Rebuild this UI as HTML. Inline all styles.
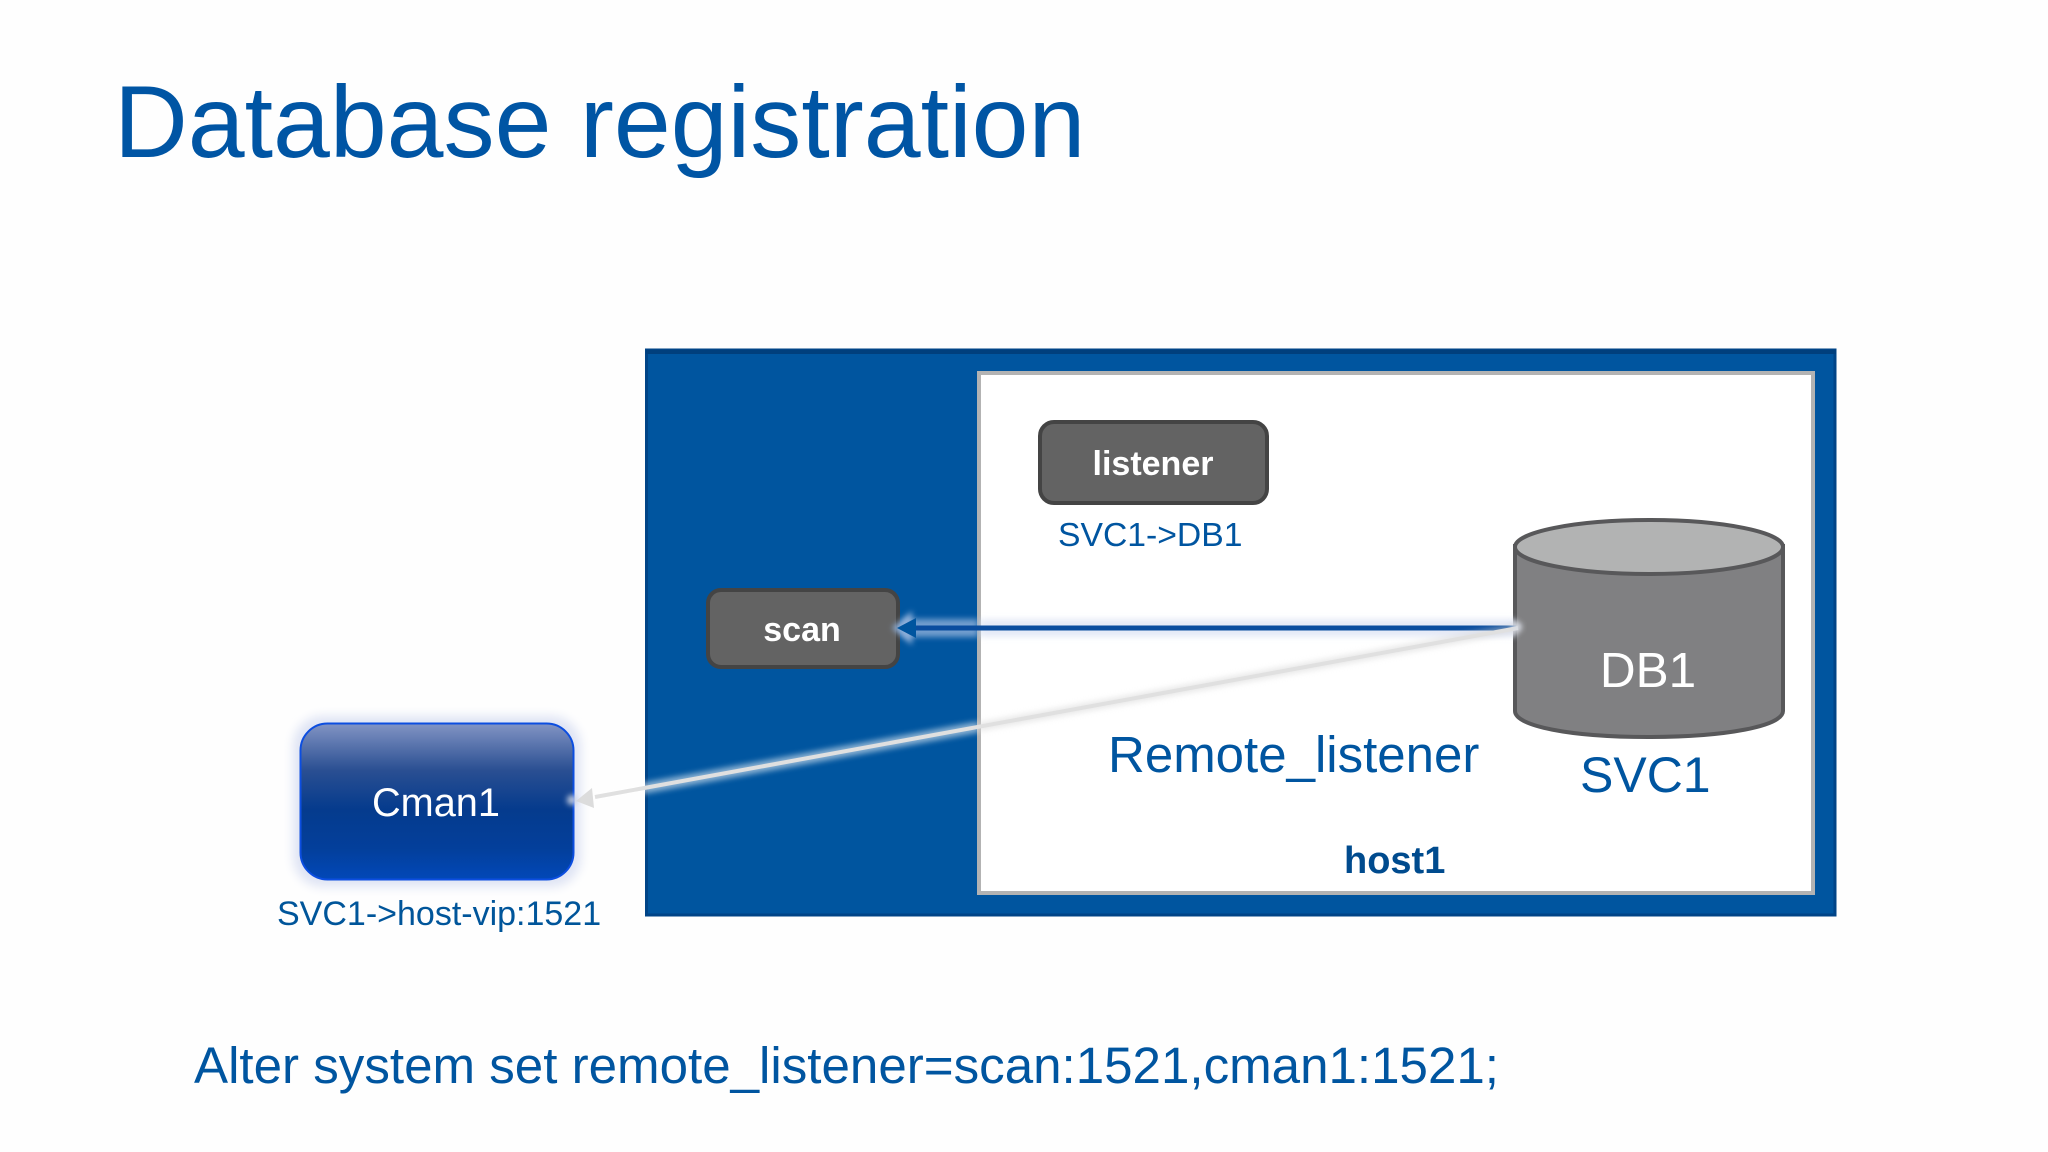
<!DOCTYPE html>
<html><head><meta charset="utf-8"><style>html,body{margin:0;padding:0;background:#fefefe}svg{display:block}text{font-family:"Liberation Sans",Arial,sans-serif}</style></head>
<body>
<svg width="2048" height="1152" viewBox="0 0 2048 1152" xmlns="http://www.w3.org/2000/svg">
<defs>
<linearGradient id="cm" x1="0" y1="0" x2="0" y2="1">
<stop offset="0" stop-color="#8294c4"/><stop offset="0.3" stop-color="#2a4f92"/><stop offset="0.55" stop-color="#053b8d"/><stop offset="0.8" stop-color="#033f9b"/><stop offset="1" stop-color="#0248b8"/>
</linearGradient>
<filter id="b3" filterUnits="userSpaceOnUse" x="0" y="0" width="2048" height="1152"><feGaussianBlur stdDeviation="3"/></filter>
<filter id="b5" filterUnits="userSpaceOnUse" x="0" y="0" width="2048" height="1152"><feGaussianBlur stdDeviation="5"/></filter>
<filter id="b4" filterUnits="userSpaceOnUse" x="0" y="0" width="2048" height="1152"><feGaussianBlur stdDeviation="3"/></filter>
</defs>
<rect width="2048" height="1152" fill="#fefefe"/>
<text x="114" y="157" font-size="102.2" fill="#0055a4">Database registration</text>

<rect x="646.500" y="350" width="1188.500" height="565" fill="#00559f" stroke="#004487" stroke-width="3"/>
<rect x="646" y="350" width="1190" height="4" fill="#003f7d"/>
<rect x="979" y="373" width="834" height="520" fill="#fff" stroke="#b3b3b3" stroke-width="4"/>

<rect x="1040" y="422" width="227" height="81" rx="14" fill="#636363" stroke="#444" stroke-width="4"/>
<text x="1153" y="475" font-size="34" font-weight="bold" fill="#fff" text-anchor="middle">listener</text>
<text x="1058" y="546" font-size="33.7" fill="#0055a0">SVC1-&gt;DB1</text>

<rect x="708" y="590" width="190" height="77" rx="13" fill="#636363" stroke="#444" stroke-width="4"/>
<text x="802" y="641" font-size="34" font-weight="bold" fill="#fff" text-anchor="middle">scan</text>

<rect x="293" y="716" width="288" height="171" rx="30" fill="#dfe4f4" filter="url(#b5)"/>
<rect x="300.500" y="723.500" width="273" height="156" rx="27" fill="url(#cm)" stroke="#0c4ee0" stroke-width="2"/>
<text x="436" y="816" font-size="39.7" fill="#fff" text-anchor="middle">Cman1</text>
<text x="277" y="925" font-size="34" fill="#00559a">SVC1-&gt;host-vip:1521</text>

<!-- cylinder -->
<path d="M1515 546 V711 C1515 726 1570 737 1648 737 C1726 737 1783 726 1783 711 V546 Z" fill="#808082" stroke="#58585a" stroke-width="4"/>
<ellipse cx="1649" cy="547" rx="134" ry="27" fill="#b2b3b3" stroke="#58585a" stroke-width="4"/>
<text x="1648" y="687" font-size="49.5" fill="#fff" text-anchor="middle">DB1</text>
<text x="1580" y="792" font-size="50" fill="#0055a0">SVC1</text>
<text x="1108" y="772" font-size="51" fill="#0055a0">Remote_listener</text>
<text x="1344" y="873" font-size="38" font-weight="bold" fill="#004b8e">host1</text>

<!-- blue arrow with glow -->
<rect x="981" y="619" width="535" height="18" fill="#dfe5f5" opacity="0.8" filter="url(#b3)"/>
<rect x="905" y="619" width="73" height="18" fill="#8fb0da" opacity="0.8" filter="url(#b3)"/>
<polygon points="892,628 912,611 912,645" fill="#8fb0da" filter="url(#b4)"/>
<rect x="905" y="625.500" width="611" height="5" fill="#0a4d9f"/>
<polygon points="897,628 916,618 916,638" fill="#00559f"/>

<!-- grey arrow with glow -->
<line x1="590" y1="798" x2="978" y2="727" stroke="#ffffff" stroke-width="11" opacity="0.55" filter="url(#b3)"/>
<line x1="978" y1="727" x2="1518" y2="628" stroke="#d4d4d4" stroke-width="9" opacity="0.5" filter="url(#b3)"/>
<line x1="595" y1="797" x2="1518" y2="628" stroke="#e0e0e0" stroke-width="4"/>
<polygon points="576,801 592,788 594,808" fill="#dcdcdc"/>
<circle cx="1517" cy="627" r="5" fill="#d8dce4" filter="url(#b4)"/>
<circle cx="572" cy="800" r="5" fill="#c6cfe2" filter="url(#b4)"/>

<text x="194" y="1083" font-size="51.1" fill="#0055a0">Alter system set remote_listener=scan:1521,cman1:1521;</text>
</svg>
</body></html>
